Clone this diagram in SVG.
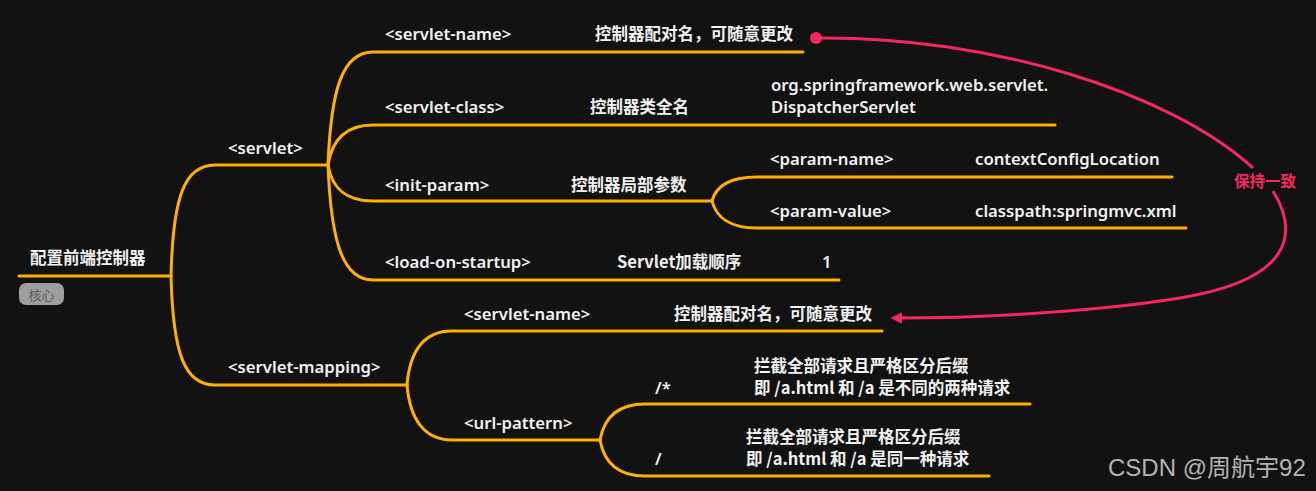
<svg xmlns="http://www.w3.org/2000/svg" width="1316" height="491" viewBox="0 0 1316 491">
<defs>
<style>
.bg{fill:#121212}
.ln{fill:none;stroke:#FFB000;stroke-width:3;stroke-linecap:round}
.t{font-family:"Noto Sans","Noto Sans CJK SC",sans-serif;font-size:16.7px;font-weight:600;fill:#f2f2f2;dominant-baseline:central}
.c{font-family:"Noto Sans CJK SC","Noto Sans",sans-serif;font-size:16.5px;font-weight:700;fill:#f2f2f2;dominant-baseline:central}
.rel{fill:none;stroke:#F5275F;stroke-width:3}
.rl{font-family:"Noto Sans CJK SC",sans-serif;font-size:15.5px;font-weight:700;fill:#F5275F;dominant-baseline:central}
</style>
<marker id="ah" viewBox="0 0 10 10" refX="2" refY="5" markerWidth="4" markerHeight="4" orient="auto-start-reverse" markerUnits="strokeWidth">
<path d="M0,0 L10,5 L0,10 z" fill="#F5275F"/>
</marker>
</defs>
<rect class="bg" x="0" y="0" width="1316" height="491"/>
<g id="connectors">
<path class="ln" d="M19,276 H171"/>
<path class="ln" d="M171,276 C173,195 185,165 215,165 H328"/>
<path class="ln" d="M171,276 C173,355 185,385 215,385 H407"/>
<path class="ln" d="M328,165 C331,90 342,52 373,52 H803"/>
<path class="ln" d="M328,165 C332,140 345,125 373,125 H1055"/>
<path class="ln" d="M328,165 C332,188 345,201 373,201 H712"/>
<path class="ln" d="M328,165 C331,240 342,280 373,280 H839"/>
<path class="ln" d="M712,201 C716,186 730,177 757,177 H1172"/>
<path class="ln" d="M712,201 C716,217 730,228 757,228 H1186"/>
<path class="ln" d="M407,385 C410,350 425,331 452,331 H882"/>
<path class="ln" d="M407,385 C410,420 425,440 452,440 H600"/>
<path class="ln" d="M600,440 C604,418 618,404 645,404 H1030"/>
<path class="ln" d="M600,440 C604,462 618,476 645,476 H989"/>
</g>
<g id="root">
<text class="c" x="30" y="257">配置前端控制器</text>
<rect x="19" y="283" width="45" height="22" rx="7" fill="#9e9e9e"/>
<text x="41.5" y="294" text-anchor="middle" font-family="Noto Sans CJK SC,sans-serif" font-size="13" fill="#5c5c5c" dominant-baseline="central">核心</text>
</g>
<g id="servlet"><text class="t" x="228" y="147">&lt;servlet&gt;</text></g>
<g id="servlet-name"><text class="t" x="385" y="33">&lt;servlet-name&gt;</text><text class="c" x="595" y="33">控制器配对名，可随意更改</text></g>
<g id="servlet-class"><text class="t" x="385" y="106">&lt;servlet-class&gt;</text><text class="c" x="590" y="106">控制器类全名</text><text class="t" x="771" y="84">org.springframework.web.servlet.</text><text class="t" x="771" y="106">DispatcherServlet</text></g>
<g id="init-param"><text class="t" x="385" y="184">&lt;init-param&gt;</text><text class="c" x="571" y="184">控制器局部参数</text></g>
<g id="param-name"><text class="t" x="770" y="158">&lt;param-name&gt;</text><text class="t" x="975" y="158">contextConfigLocation</text></g>
<g id="param-value"><text class="t" x="770" y="210">&lt;param-value&gt;</text><text class="t" x="975" y="210">classpath:springmvc.xml</text></g>
<g id="load-on-startup"><text class="t" x="385" y="261">&lt;load-on-startup&gt;</text><text class="c" x="617" y="261">Servlet加载顺序</text><text class="t" x="822" y="261">1</text></g>
<g id="servlet-mapping"><text class="t" x="228" y="366">&lt;servlet-mapping&gt;</text></g>
<g id="servlet-name-2"><text class="t" x="464" y="313">&lt;servlet-name&gt;</text><text class="c" x="674" y="313">控制器配对名，可随意更改</text></g>
<g id="url-pattern"><text class="t" x="464" y="422">&lt;url-pattern&gt;</text></g>
<g id="pattern-all"><text class="t" x="655" y="387">/*</text><text class="c" x="754" y="365">拦截全部请求且严格区分后缀</text><text class="c" x="754" y="387">即 /a.html 和 /a 是不同的两种请求</text></g>
<g id="pattern-root"><text class="t" x="655" y="458">/</text><text class="c" x="746" y="436">拦截全部请求且严格区分后缀</text><text class="c" x="746" y="458">即 /a.html 和 /a 是同一种请求</text></g>
<g id="relation">
<circle cx="816" cy="38" r="6" fill="#F5275F"/>
<path class="rel" d="M816,38 C990,36 1170,92 1253,168"/>
<path class="rel" d="M1273,191 C1300,235 1290,280 1180,298 C1080,314 960,318 900,318" marker-end="url(#ah)"/>
<text class="rl" x="1265" y="180" text-anchor="middle">保持一致</text>
</g>
<text x="1108" y="467" font-family="Liberation Sans,Noto Sans CJK SC,sans-serif" font-size="24" fill="#b4b4b4" dominant-baseline="central">CSDN @周航宇92</text>
</svg>
